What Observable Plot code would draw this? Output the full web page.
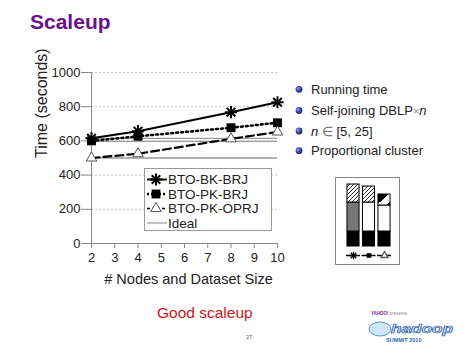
<!DOCTYPE html>
<html><head><meta charset="utf-8">
<script src="https://cdn.jsdelivr.net/npm/d3@7"></script>
<script src="https://cdn.jsdelivr.net/npm/@observablehq/plot@0.6"></script>
<style>
html,body{margin:0;padding:0;background:#fff;}
body{width:474px;height:355px;position:relative;overflow:hidden;font-family:"Liberation Sans",Arial,sans-serif;}
.abs{position:absolute;}
#chart{left:0;top:0;}
#legend{left:144px;top:168px;width:126px;height:61px;border:1px solid #999;background:#fff;}
#inset{left:335px;top:177px;width:63px;height:86px;border:1px solid #888;background:#fff;}
#chart .tick line, #chart [aria-label="x-axis tick"], #chart [aria-label="y-axis tick"]{stroke:#888;}
#chart .domain{display:none;}
#slide{left:0;top:0;}
</style></head><body>
<svg id="slide" class="abs" width="474" height="355" font-family="Liberation Sans, Arial, sans-serif">
  <defs>
    <radialGradient id="ball" cx="0.35" cy="0.35" r="0.7">
      <stop offset="0" stop-color="#9aa6e6"/>
      <stop offset="0.5" stop-color="#3a48a8"/>
      <stop offset="1" stop-color="#1c2470"/>
    </radialGradient>
  </defs>
  <text x="30" y="29.3" font-size="21" font-weight="bold" fill="#6b0f8f">Scaleup</text>
  <g id="bullets"></g>
  <text x="157" y="318.3" font-size="15.5" fill="#d0141b">Good scaleup</text>
  <text x="246" y="338.7" font-size="5.5" fill="#555">27</text>
  <text x="371" y="315" font-size="4.5" font-weight="bold" fill="#7b1fa2">YAHOO! <tspan font-weight="normal" fill="#888">presents</tspan></text>
  <ellipse cx="380" cy="329" rx="11" ry="7" fill="#cfe6f8" stroke="#3a78c2" stroke-width="0.8"/>
  <text x="391" y="332.5" font-size="13" font-weight="bold" font-style="italic" fill="#d6ebfb" stroke="#2a5aa8" stroke-width="0.7" textLength="62" lengthAdjust="spacingAndGlyphs">hadoop</text>
  <text x="386" y="341.5" font-size="5.5" font-weight="bold" fill="#2a6cc0">SUMMIT 2010</text>
</svg>
<div id="chart" class="abs"></div>
<div id="legend" class="abs"></div>
<div id="inset" class="abs"></div>
<script>
// ---- data ----
const xTicks = [2, 3, 4, 5, 6, 7, 8, 9, 10];
const yTicks = [0, 200, 400, 600, 800, 1000];
const nodes = [2, 4, 8, 10];
const bkBrj = [615, 657, 768, 826];
const pkBrj = [600, 627, 677, 706];
const pkOprj = [500, 525, 612, 652];
const idealLevels = [615, 597, 500];
const seriesNames = ["BTO-BK-BRJ", "BTO-PK-BRJ", "BTO-PK-OPRJ", "Ideal"];
const bulletItems = ["Running time", "Self-joining DBLP×n", "n ∈ [5, 25]", "Proportional cluster"];
const insetBars = [1, 2, 3];
const insetBlack = [15, 15, 15];
const insetMiddle = [44, 44, 41];
const insetTop = [62, 60, 52];
const insetMiddleFill = ["#777", "#fff", "#fff"];
const insetTopFill = ["url(#hatch)", "url(#hatch)", "url(#diag)"];

const rows = (vals, s) => nodes.map((n, i) => ({n, v: vals[i], s}));
const bk = rows(bkBrj, seriesNames[0]);
const pk = rows(pkBrj, seriesNames[1]);
const op = rows(pkOprj, seriesNames[2]);
const font = "Liberation Sans, Arial, sans-serif";

const chart = Plot.plot({
  width: 300, height: 300,
  marginLeft: 91, marginRight: 23, marginTop: 72, marginBottom: 57,
  style: {fontFamily: font, fontSize: "13px", color: "#222", background: "transparent", overflow: "visible"},
  x: {domain: [xTicks[0], xTicks[xTicks.length - 1]], ticks: xTicks, tickFormat: d => String(d), tickSize: 5, tickPadding: 4, label: null},
  y: {domain: [yTicks[0], yTicks[yTicks.length - 1]], ticks: yTicks, tickFormat: d => String(d), tickSize: 10, tickPadding: 1, label: null},
  marks: [
    Plot.ruleY(yTicks.filter(d => d > 0), {x1: xTicks[0], x2: xTicks[xTicks.length - 1], stroke: "#c4c4c4", strokeDasharray: "2,2"}),
    Plot.ruleY(idealLevels, {x1: nodes[0], x2: nodes[nodes.length - 1], stroke: "#9a9a9a", strokeWidth: 1.3}),
    Plot.ruleX([xTicks[0]], {y1: yTicks[0], y2: yTicks[yTicks.length - 1], stroke: "#888"}),
    Plot.ruleY([yTicks[0]], {x1: xTicks[0], x2: xTicks[xTicks.length - 1], stroke: "#888"}),
    Plot.line(bk, {x: "n", y: "v", stroke: "#000", strokeWidth: 2}),
    Plot.line(pk, {x: "n", y: "v", stroke: "#000", strokeWidth: 2.5, strokeDasharray: "2,3"}),
    Plot.line(op, {x: "n", y: "v", stroke: "#000", strokeWidth: 2.2, strokeDasharray: "8,4"}),
    Plot.dot(bk, {x: "n", y: "v", symbol: "plus", r: 4, fill: "none", stroke: "#000", strokeWidth: 2}),
    Plot.dot(bk, {x: "n", y: "v", symbol: "times", r: 4, fill: "none", stroke: "#000", strokeWidth: 2}),
    Plot.dot(pk, {x: "n", y: "v", symbol: "square", r: 5, fill: "#000", stroke: "none"}),
    Plot.dot(op, {x: "n", y: "v", symbol: "triangle", r: 3.9, fill: "#fff", stroke: "#555", strokeWidth: 1}),
    Plot.text(["Time (seconds)"], {text: d => d, frameAnchor: "left", dx: -50, rotate: -90, fontSize: 16, fill: "#222"}),
    Plot.text(["# Nodes and Dataset Size"], {text: d => d, frameAnchor: "bottom", dy: 40, dx: 4, fontSize: 14.5, fill: "#222"})
  ]
});
document.getElementById("chart").appendChild(chart);

// ---- legend ----
const lsvg = d3.select("#legend").append("svg").attr("width", 126).attr("height", 61)
  .attr("font-family", font);
const legendStyles = [
  {dash: null, sym: [d3.symbolPlus, d3.symbolTimes], fill: "none", stroke: "#000", lw: 2, lc: "#000"},
  {dash: "2,2", sym: [d3.symbolSquare], fill: "#000", stroke: "none", lw: 2.5, lc: "#000"},
  {dash: "3,2", sym: [d3.symbolTriangle], fill: "#fff", stroke: "#555", lw: 1.5, lc: "#000"},
  {dash: null, sym: [], fill: "none", stroke: "none", lw: 1.2, lc: "#999"}
];
const symSize = [49, 78, 48];
seriesNames.forEach((name, i) => {
  const st = legendStyles[i];
  const cy = 10.5 + i * 14.5;
  lsvg.append("line").attr("x1", 2).attr("x2", 22).attr("y1", cy).attr("y2", cy)
    .attr("stroke", st.lc).attr("stroke-width", st.lw).attr("stroke-dasharray", st.dash);
  st.sym.forEach(t => {
    lsvg.append("path").attr("transform", `translate(11,${cy})`)
      .attr("d", d3.symbol().type(t).size(symSize[i])())
      .attr("fill", st.fill).attr("stroke", st.stroke).attr("stroke-width", st.sym.length > 1 ? 2 : 1);
  });
  lsvg.append("text").attr("x", 23).attr("y", cy).attr("dy", "0.36em").attr("font-size", 13.5)
    .attr("fill", "#222").text(name);
});

// ---- bullets ----
const bulletY = [89.3, 110.5, 131, 150.7];
const bg = d3.select("#bullets");
bulletItems.forEach((t, i) => {
  bg.append("circle").attr("cx", 299).attr("cy", bulletY[i]).attr("r", 3.4).attr("fill", "url(#ball)");
  const tx = bg.append("text").attr("x", 311).attr("y", bulletY[i] + 4.6).attr("font-size", 13).attr("fill", "#222");
  if (t.includes("×")) {
    const [a, b] = t.split("×");
    tx.append("tspan").text(a);
    tx.append("tspan").attr("fill", "#888").attr("font-size", 11).text("×");
    tx.append("tspan").attr("font-style", "italic").text(b);
  } else if (t.startsWith("n ")) {
    tx.append("tspan").attr("font-style", "italic").text("n");
    tx.append("tspan").attr("fill", "#666").text(" ∈ ");
    tx.append("tspan").text(t.slice(4));
  } else tx.text(t);
});

// ---- inset ----
const insetRows = insetBars.flatMap((b, i) => [
  {x: b, y1: 0, y2: insetBlack[i], fill: "#000"},
  {x: b, y1: insetBlack[i], y2: insetMiddle[i], fill: insetMiddleFill[i]},
  {x: b, y1: insetMiddle[i], y2: insetTop[i], fill: insetTopFill[i]}
]);
const insetSym = [
  {x: 1, sym: "plus", fill: "none", stroke: "#000", dash: null},
  {x: 1, sym: "times", fill: "none", stroke: "#000", dash: null},
  {x: 2, sym: "square", fill: "#000", stroke: "none", dash: "1.5,1.5"},
  {x: 3, sym: "triangle", fill: "#fff", stroke: "#555", dash: "1.5,1.5"}
];
const inset = Plot.plot({
  width: 63, height: 86, margin: 0,
  style: {background: "transparent", overflow: "visible"},
  x: {domain: [1, 3], range: [17, 48], axis: null},
  y: {domain: [0, 62], range: [68, 6], axis: null},
  color: {type: "identity"},
  marks: [
    Plot.ruleY(insetSym.filter(d => d.sym !== "times"), {y: -9, x1: d => d.x - 0.45, x2: d => d.x + 0.45, stroke: "#000", strokeWidth: 1.5, strokeDasharray: d => d.dash}),
    Plot.rect(insetRows, {x1: d => d.x - 0.39, x2: d => d.x + 0.39, y1: "y1", y2: "y2", fill: "fill", stroke: "#000", strokeWidth: 1}),
    Plot.dot(insetSym, {x: "x", y: -9, symbol: "sym", r: 2.6, fill: "fill", stroke: "stroke", strokeWidth: 1.3})
  ]
});
const defs = d3.select(inset).append("defs");
const hp = defs.append("pattern").attr("id", "hatch").attr("patternUnits", "userSpaceOnUse")
  .attr("width", 4).attr("height", 4);
hp.append("rect").attr("width", 4).attr("height", 4).attr("fill", "#fff");
hp.append("path").attr("d", "M-1,5 L5,-1 M-1,1 L1,-1 M3,5 L5,3").attr("stroke", "#000").attr("stroke-width", 0.8);
const dg = defs.append("linearGradient").attr("id", "diag").attr("x1", 0).attr("y1", 0).attr("x2", 1).attr("y2", 1);
[[0, "#000"], [0.45, "#000"], [0.45, "#fff"], [0.85, "#fff"], [0.85, "#000"], [1, "#000"]]
  .forEach(([o, c]) => dg.append("stop").attr("offset", o).attr("stop-color", c));
document.getElementById("inset").appendChild(inset);
</script>
</body></html>
